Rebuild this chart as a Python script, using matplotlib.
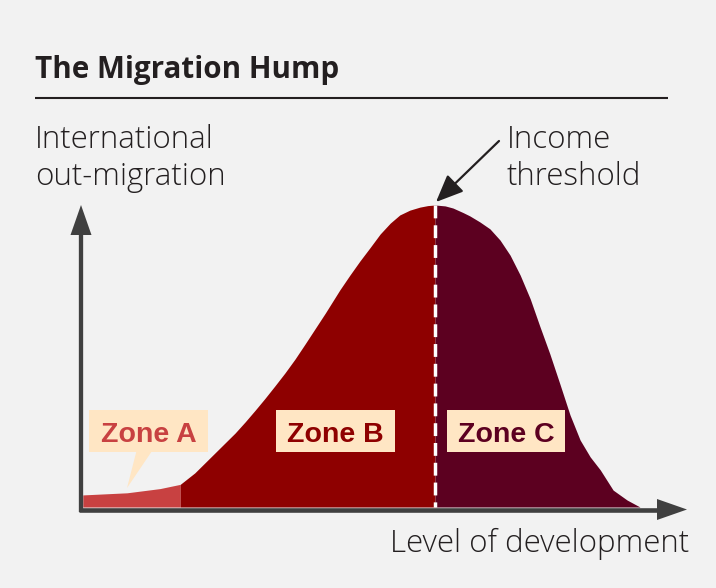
import matplotlib
matplotlib.use("Agg")
import matplotlib.pyplot as plt
from matplotlib.patches import Polygon, Rectangle
import numpy as np

# ---- data (development level 0-100, migration 0-100) ----
development = [0.5, 8.4, 14.3, 17.9, 20.5, 22.3, 24.1, 25.9, 27.7, 29.5, 31.3, 33.0,
               34.8, 36.6, 38.4, 40.2, 42.0, 43.8, 46.4, 48.2, 50.0, 51.8, 53.6, 55.4,
               57.1, 58.9, 60.7, 62.1, 63.4, 65.2, 66.6, 68.4, 69.6, 71.4, 73.2, 75.0,
               76.8, 78.6, 80.4, 82.1, 83.9, 85.7, 87.5, 89.3, 91.1, 92.9, 95.2, 97.7,
               100.0]
migration = [4.0, 4.7, 6.1, 7.5, 11.3, 14.6, 17.9, 21.2, 24.5, 28.2, 32.1, 35.9,
             40.1, 44.4, 49.0, 54.0, 59.1, 64.2, 71.9, 76.8, 81.5, 85.9, 90.4, 94.0,
             96.7, 98.3, 99.3, 99.8, 100.0, 99.7, 99.0, 97.5, 96.4, 94.4, 92.1, 88.4,
             83.4, 76.8, 68.9, 59.9, 50.7, 40.7, 30.5, 22.2, 16.6, 12.3, 5.6, 2.3,
             0.0]
zone_edges = [0.5, 17.9, 63.4, 100.0]
zone_names = ["Zone A", "Zone B", "Zone C"]
zone_colors = ["#c84141", "#8e0000", "#5c0020"]
threshold = 63.4

title = "The Migration Hump"
y_label = ["International", "out-migration"]
x_label = "Level of development"
threshold_label = ["Income", "threshold"]

BG = "#f2f2f2"
AXC = "#404040"
TXT = "#231f20"
BOX = "#ffe6c4"

fig = plt.figure(figsize=(7.16, 5.88), dpi=100)
fig.patch.set_facecolor(BG)

# data axes: x 0..100 -> px 80..640, y 0..100 -> px 507..205
ax = fig.add_axes([0, 0, 1, 1])
ax.set_xlim(-80 / 5.6, 636 / 5.6)
ax.set_ylim(-81 / 3.02, 507 / 3.02)
ax.axis("off")
ax.patch.set_alpha(0)

x = np.array(development)
y = np.array(migration)
for i in range(3):
    m = (x >= zone_edges[i]) & (x <= zone_edges[i + 1])
    ax.fill_between(x[m], 0, y[m], color=zone_colors[i], lw=0, zorder=1)

ax.plot([threshold, threshold], [100, 0], color="white", lw=2.5,
        dashes=(3.7, 2.0), solid_capstyle="butt", dash_capstyle="butt", zorder=2)

# overlay axes in pixel units for annotations
ov = fig.add_axes([0, 0, 1, 1])
ov.set_xlim(0, 716)
ov.set_ylim(588, 0)
ov.axis("off")
ov.patch.set_alpha(0)

SANS = ["Open Sans", "DejaVu Sans"]

# title and rule
ov.text(35, 77.7, title, fontsize=21.3, fontweight="bold", family=SANS,
        color=TXT, va="baseline", ha="left")
ov.plot([35, 668], [98.3, 98.3], color=TXT, lw=1.5, solid_capstyle="butt")

# axis labels
light = dict(family=SANS, fontweight="light", color=TXT, fontsize=22.5,
             va="baseline", ha="left")
ov.text(35, 147.7, y_label[0], **light)
ov.text(35, 185, y_label[1], **light)
ov.text(507, 147.7, threshold_label[0], **light)
ov.text(507, 185, threshold_label[1], **light)
ov.text(390, 552, x_label, **light)

# threshold arrow
ov.annotate("", xy=(436, 202), xytext=(499, 141),
            arrowprops=dict(arrowstyle="-|>,head_length=1.4,head_width=0.6",
                            color=TXT, lw=1.6, shrinkA=0, shrinkB=0,
                            mutation_scale=12))

# axes with arrowheads
ov.plot([81, 81], [512, 230], color=AXC, lw=3.1, solid_capstyle="butt", zorder=5)
ov.add_patch(Polygon([(70.5, 235), (81, 205), (91.5, 235)], closed=True,
                     color=AXC, lw=0, zorder=5))
ov.plot([79, 660], [509.5, 509.5], color=AXC, lw=3.3, solid_capstyle="butt", zorder=5)
ov.add_patch(Polygon([(657, 499), (687, 509.5), (657, 520)], closed=True,
                     color=AXC, lw=0, zorder=5))

# zone labels
boxes = [(89, 208), (276, 395), (447, 565)]
for (x0, x1), name, col in zip(boxes, zone_names, zone_colors):
    ov.add_patch(Rectangle((x0, 410), x1 - x0, 42, facecolor=BOX, lw=0, zorder=6))
    ov.text((x0 + x1) / 2, 441.7, name, fontsize=20.5, fontweight="bold",
            family=["Liberation Sans", "DejaVu Sans"], color=col, ha="center",
            va="baseline", zorder=7)
# pointer of Zone A
ov.add_patch(Polygon([(136.5, 451), (152, 451), (127, 488)], closed=True,
                     facecolor=BOX, lw=0, zorder=6))

fig.savefig("out.png", dpi=100, facecolor=BG)
